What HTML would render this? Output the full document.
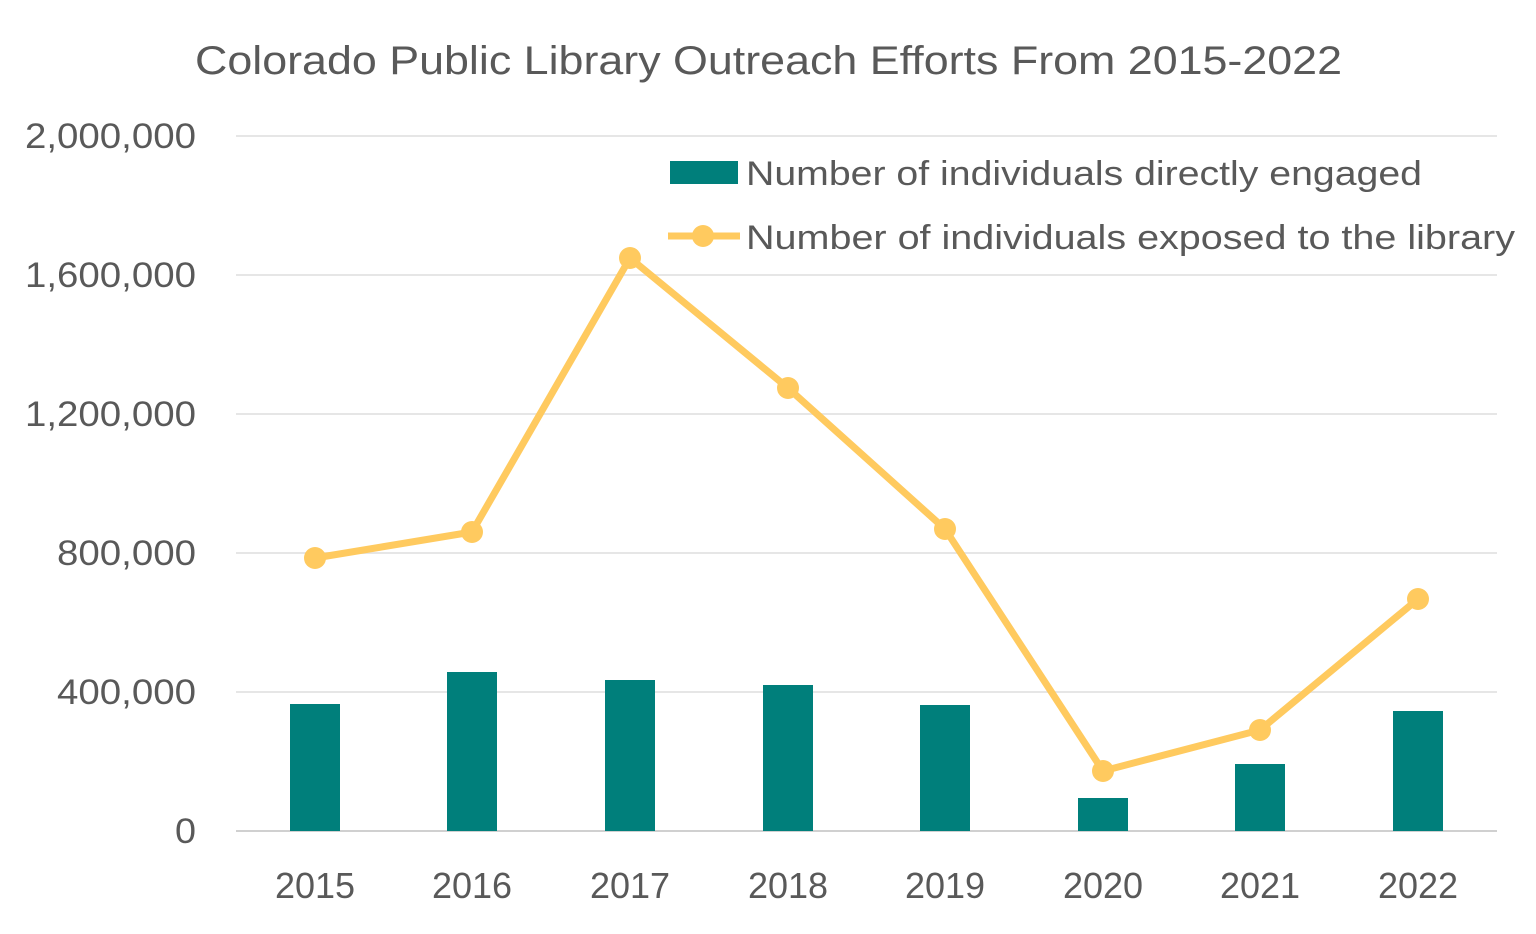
<!DOCTYPE html>
<html><head><meta charset="utf-8"><style>html,body{margin:0;padding:0;background:#fff}svg{display:block}</style></head>
<body>
<svg width="1536" height="934" xmlns="http://www.w3.org/2000/svg" font-family="'Liberation Sans', sans-serif" fill="#595959">
<rect width="1536" height="934" fill="#fff"/>
<text x="195" y="74" font-size="40" textLength="1147" lengthAdjust="spacingAndGlyphs">Colorado Public Library Outreach Efforts From 2015-2022</text>
<g stroke="#e6e6e6" stroke-width="2">
<line x1="236" x2="1497" y1="136" y2="136"/>
<line x1="236" x2="1497" y1="275" y2="275"/>
<line x1="236" x2="1497" y1="414" y2="414"/>
<line x1="236" x2="1497" y1="553" y2="553"/>
<line x1="236" x2="1497" y1="692" y2="692"/>
</g>
<line x1="236" x2="1497" y1="831" y2="831" stroke="#d0d0d0" stroke-width="2"/>
<g font-size="35">
<text x="25" y="148" textLength="171" lengthAdjust="spacingAndGlyphs">2,000,000</text>
<text x="25" y="287" textLength="171" lengthAdjust="spacingAndGlyphs">1,600,000</text>
<text x="25" y="426" textLength="171" lengthAdjust="spacingAndGlyphs">1,200,000</text>
<text x="57" y="565" textLength="139" lengthAdjust="spacingAndGlyphs">800,000</text>
<text x="57" y="704" textLength="139" lengthAdjust="spacingAndGlyphs">400,000</text>
<text x="175" y="843" textLength="21" lengthAdjust="spacingAndGlyphs">0</text>
</g>
<g font-size="36" text-anchor="middle">
<text x="315" y="898">2015</text><text x="472" y="898">2016</text><text x="630" y="898">2017</text><text x="788" y="898">2018</text>
<text x="945" y="898">2019</text><text x="1103" y="898">2020</text><text x="1260" y="898">2021</text><text x="1418" y="898">2022</text>
</g>
<g fill="#007F7B">
<rect x="290" y="704" width="50" height="127"/>
<rect x="447" y="672" width="50" height="159"/>
<rect x="605" y="680" width="50" height="151"/>
<rect x="763" y="685" width="50" height="146"/>
<rect x="920" y="705" width="50" height="126"/>
<rect x="1078" y="798" width="50" height="33"/>
<rect x="1235" y="764" width="50" height="67"/>
<rect x="1393" y="711" width="50" height="120"/>
</g>
<polyline fill="none" stroke="#FFCA5F" stroke-width="7" stroke-linejoin="round" points="315,558 472,532 630,258 788,388 945,529 1103,771 1260,730 1418,599"/>
<g fill="#FFCA5F">
<circle cx="315" cy="558" r="11"/><circle cx="472" cy="532" r="11"/><circle cx="630" cy="258" r="11"/><circle cx="788" cy="388" r="11"/>
<circle cx="945" cy="529" r="11"/><circle cx="1103" cy="771" r="11"/><circle cx="1260" cy="730" r="11"/><circle cx="1418" cy="599" r="11"/>
</g>
<rect x="670" y="161" width="68" height="23" fill="#007F7B"/>
<text x="746" y="185" font-size="34" textLength="676" lengthAdjust="spacingAndGlyphs">Number of individuals directly engaged</text>
<line x1="668" x2="740" y1="236" y2="236" stroke="#FFCA5F" stroke-width="7"/>
<circle cx="703" cy="236" r="11" fill="#FFCA5F"/>
<text x="746" y="249" font-size="34" textLength="769" lengthAdjust="spacingAndGlyphs">Number of individuals exposed to the library</text>
</svg>
</body></html>
